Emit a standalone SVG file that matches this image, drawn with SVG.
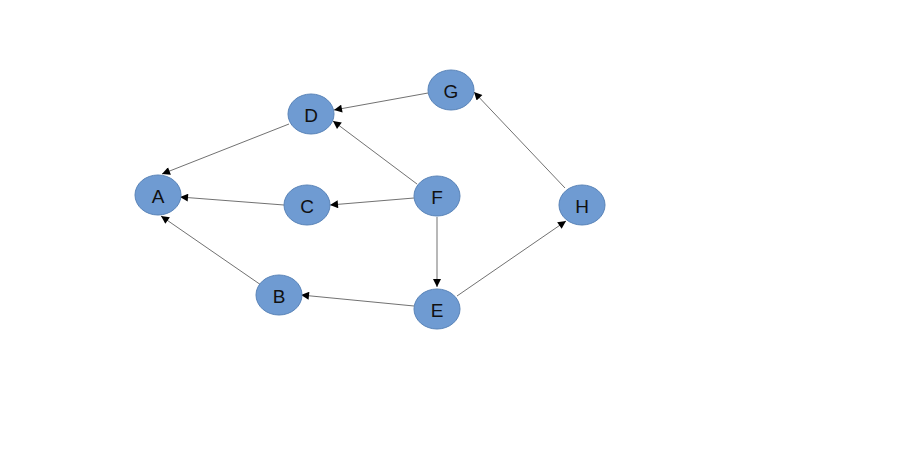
<svg xmlns="http://www.w3.org/2000/svg" width="916" height="455" viewBox="0 0 916 455">
<style>
.n ellipse{fill:#6f9bd2;stroke:#5a84b8;stroke-width:1}
.n text{font-family:"Liberation Sans",Arial,sans-serif;font-size:19px;fill:#111;text-anchor:middle;dominant-baseline:central}
.e line{stroke:#333;stroke-width:0.7;marker-end:url(#ar)}
</style>
<defs><marker id="ar" viewBox="0 0 10 10" refX="10" refY="5" markerWidth="10" markerHeight="8" markerUnits="userSpaceOnUse" orient="auto"><path d="M0,0L10,5L0,10z" fill="#000"/></marker></defs>
<rect width="916" height="455" fill="#fff"/>
<g class="e">
<line x1="289" y1="124" x2="162" y2="174"/>
<line x1="284" y1="205" x2="180" y2="197"/>
<line x1="428" y1="93" x2="334" y2="110"/>
<line x1="417" y1="184" x2="333" y2="121"/>
<line x1="414" y1="198" x2="330" y2="205"/>
<line x1="437" y1="217" x2="437" y2="287"/>
<line x1="414" y1="306" x2="301" y2="295"/>
<line x1="261" y1="285" x2="161" y2="216"/>
<line x1="457" y1="296" x2="566" y2="221"/>
<line x1="565" y1="188" x2="474" y2="92"/>
</g>
<g id="A" class="n"><ellipse cx="158" cy="195" rx="23" ry="20"/><text x="158" y="196">A</text></g>
<g id="D" class="n"><ellipse cx="311" cy="114" rx="23" ry="20"/><text x="311" y="115">D</text></g>
<g id="G" class="n"><ellipse cx="451" cy="90" rx="23" ry="20"/><text x="451" y="91">G</text></g>
<g id="C" class="n"><ellipse cx="307" cy="205" rx="23" ry="20"/><text x="307" y="206">C</text></g>
<g id="F" class="n"><ellipse cx="437" cy="196" rx="23" ry="20"/><text x="437" y="197">F</text></g>
<g id="H" class="n"><ellipse cx="582" cy="205" rx="23" ry="20"/><text x="582" y="206">H</text></g>
<g id="B" class="n"><ellipse cx="279" cy="295" rx="23" ry="20"/><text x="279" y="296">B</text></g>
<g id="E" class="n"><ellipse cx="437" cy="309" rx="23" ry="20"/><text x="437" y="310">E</text></g>
</svg>
